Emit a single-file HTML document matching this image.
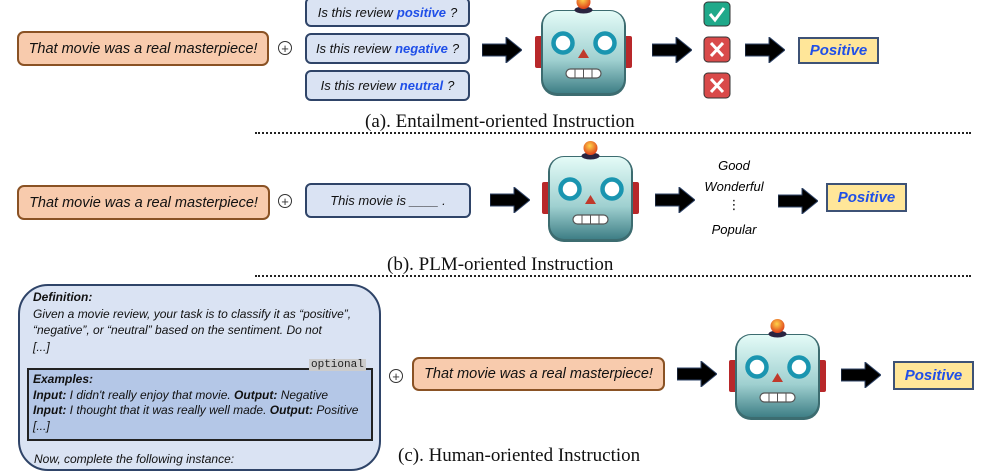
<!DOCTYPE html>
<html><head><meta charset="utf-8"><style>
body{margin:0;width:990px;height:476px;background:#fff;position:relative;overflow:hidden;font-family:"Liberation Sans","DejaVu Sans",sans-serif}
.a{position:absolute;box-sizing:border-box}
.or{background:#f8cbad;border:2px solid #8a5224;border-radius:7px;font-style:italic;font-size:14.5px;display:flex;align-items:center;justify-content:center;color:#111}
.bl{background:#dae3f3;border:2px solid #2f4468;border-radius:6px;font-style:italic;font-size:13px;display:flex;align-items:center;justify-content:center;color:#111}
.bl b{color:#1f4fe8;margin:0 4px}
.pos{background:#ffe699;border:2px solid #3d5276;font-style:italic;font-weight:bold;color:#1f4fe8;font-size:15px;display:flex;align-items:center;justify-content:center}
.cap{font-family:"Liberation Serif",serif;font-size:19px;color:#111;white-space:nowrap}
.dot{border-top:2px dotted #222;height:0}
.plus{width:14px;height:14px;border:1px solid #333;border-radius:50%;font-size:13px;line-height:13px;text-align:center;color:#333}
.w{font-style:italic;font-size:13px;text-align:center;width:90px}
</style></head><body>
<svg width="0" height="0" style="position:absolute">
<defs>
<linearGradient id="hg" x1="0" y1="0" x2="0" y2="1"><stop offset="0" stop-color="#e4fbf7"/><stop offset="0.6" stop-color="#9fd0d0"/><stop offset="1" stop-color="#3f7f86"/></linearGradient>
<radialGradient id="bg" cx="0.45" cy="0.35" r="0.6"><stop offset="0" stop-color="#ffd24a"/><stop offset="1" stop-color="#e0481c"/></radialGradient>
<symbol id="robot" viewBox="0 0 97 104">
<rect x="0" y="44" width="10" height="32" rx="2" fill="#b8282a"/>
<rect x="87" y="44" width="10" height="32" rx="2" fill="#b8282a"/>
<rect x="6" y="18" width="85" height="86" rx="16" fill="#3c6c70"/>
<rect x="8" y="19" width="81" height="82" rx="14" fill="url(#hg)"/>
<ellipse cx="48.5" cy="18" rx="9" ry="3.5" fill="#2a2440"/>
<circle cx="48.5" cy="10" r="7" fill="url(#bg)"/>
<circle cx="28" cy="51" r="9.5" fill="#fff" stroke="#1a95b0" stroke-width="4.5"/>
<circle cx="70" cy="51" r="9.5" fill="#fff" stroke="#1a95b0" stroke-width="4.5"/>
<polygon points="48.5,57 43,66 54,66" fill="#c0392b"/>
<rect x="31" y="77" width="35" height="9" rx="4.5" fill="#fff" stroke="#555" stroke-width="1.2"/>
<line x1="40" y1="77" x2="40" y2="86" stroke="#555"/><line x1="48.5" y1="77" x2="48.5" y2="86" stroke="#555"/><line x1="57" y1="77" x2="57" y2="86" stroke="#555"/>
</symbol>
<symbol id="arr" viewBox="0 0 40 26">
<polygon points="0,7 24,7 24,0 40,13 24,26 24,19 0,19" fill="#000" stroke="#2f4468" stroke-width="1"/>
</symbol>
</defs></svg>

<!-- (a) -->
<div class="a or" style="left:17px;top:31px;width:252px;height:35px">That movie was a real masterpiece!</div>
<div class="a plus" style="left:278px;top:41px">+</div>
<div class="a bl" style="left:305px;top:-3px;width:165px;height:30px">Is this review<b>positive</b>?</div>
<div class="a bl" style="left:305px;top:33px;width:165px;height:31px">Is this review<b>negative</b>?</div>
<div class="a bl" style="left:305px;top:70px;width:165px;height:31px">Is this review<b>neutral</b>?</div>
<svg class="a" style="left:482px;top:37px" width="40" height="26"><use href="#arr"/></svg>
<svg class="a" style="left:535px;top:-8px" width="97" height="104"><use href="#robot"/></svg>
<svg class="a" style="left:652px;top:37px" width="40" height="26"><use href="#arr"/></svg>
<svg class="a" style="left:702px;top:0px" width="30" height="100">
<rect x="2" y="2" width="26" height="24" rx="4" fill="#1fa98a" stroke="#333"/><path d="M8 14 l5 6 l9 -12" stroke="#fff" stroke-width="3" fill="none"/>
<rect x="2" y="37" width="26" height="25" rx="4" fill="#d94a4a" stroke="#333"/><path d="M9 43 l12 13 M21 43 l-12 13" stroke="#fff" stroke-width="3"/>
<rect x="2" y="73" width="26" height="25" rx="4" fill="#d94a4a" stroke="#333"/><path d="M9 79 l12 13 M21 79 l-12 13" stroke="#fff" stroke-width="3"/>
</svg>
<svg class="a" style="left:745px;top:37px" width="40" height="26"><use href="#arr"/></svg>
<div class="a pos" style="left:798px;top:37px;width:81px;height:27px">Positive</div>
<div class="a cap" style="left:365px;top:111px">(a). Entailment-oriented Instruction</div>
<div class="a dot" style="left:255px;top:132px;width:716px"></div>

<!-- (b) -->
<div class="a or" style="left:17px;top:185px;width:253px;height:35px">That movie was a real masterpiece!</div>
<div class="a plus" style="left:278px;top:194px">+</div>
<div class="a bl" style="left:305px;top:183px;width:166px;height:35px">This movie is ____ .</div>
<svg class="a" style="left:490px;top:187px" width="40" height="26"><use href="#arr"/></svg>
<svg class="a" style="left:542px;top:138px" width="97" height="104"><use href="#robot"/></svg>
<svg class="a" style="left:655px;top:187px" width="40" height="26"><use href="#arr"/></svg>
<div class="a w" style="left:689px;top:158px">Good</div>
<div class="a w" style="left:689px;top:179px">Wonderful</div>
<div class="a w" style="left:689px;top:197px">⋮</div>
<div class="a w" style="left:689px;top:222px">Popular</div>
<svg class="a" style="left:778px;top:188px" width="40" height="26"><use href="#arr"/></svg>
<div class="a pos" style="left:826px;top:183px;width:81px;height:29px">Positive</div>
<div class="a cap" style="left:387px;top:254px">(b). PLM-oriented Instruction</div>
<div class="a dot" style="left:255px;top:275px;width:716px"></div>

<!-- (c) -->
<div class="a" style="left:18px;top:284px;width:363px;height:187px;background:#dae3f3;border:2px solid #2f4468;border-radius:30px"></div>
<div class="a" style="left:33px;top:289px;font-size:12px;line-height:16.5px;font-style:italic;color:#111;width:340px"><b>Definition:</b><br>Given a movie review, your task is to classify it as “positive”, “negative”, or “neutral” based on the sentiment. Do not<br>[...]</div>
<div class="a" style="left:27px;top:368px;width:346px;height:73px;background:#b4c7e7;border:2px solid #222"></div>
<div class="a" style="left:309px;top:359px;background:#ccc;font-family:'Liberation Mono',monospace;font-size:11px;padding:0 2px;color:#222">optional</div>
<div class="a" style="left:33px;top:372px;font-size:12px;line-height:15.5px;font-style:italic;color:#111;white-space:nowrap"><b>Examples:</b><br><b>Input:</b> I didn't really enjoy that movie. <b>Output:</b> Negative<br><b>Input:</b> I thought that it was really well made. <b>Output:</b> Positive<br>[...]</div>
<div class="a" style="left:34px;top:452px;font-size:12px;font-style:italic;color:#111">Now, complete the following instance:</div>
<div class="a plus" style="left:389px;top:369px">+</div>
<div class="a or" style="left:412px;top:357px;width:253px;height:34px">That movie was a real masterpiece!</div>
<svg class="a" style="left:677px;top:361px" width="40" height="26"><use href="#arr"/></svg>
<svg class="a" style="left:729px;top:316px" width="97" height="104"><use href="#robot"/></svg>
<svg class="a" style="left:841px;top:362px" width="40" height="26"><use href="#arr"/></svg>
<div class="a pos" style="left:893px;top:361px;width:81px;height:29px">Positive</div>
<div class="a cap" style="left:398px;top:445px">(c). Human-oriented Instruction</div>
</body></html>
